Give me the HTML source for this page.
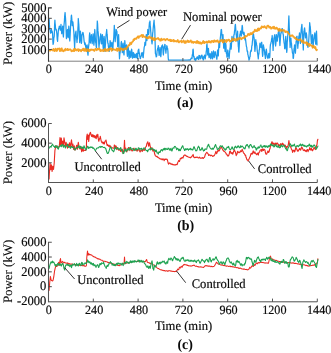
<!DOCTYPE html><html><head><meta charset="utf-8"><title>Power</title><style>html,body{margin:0;padding:0;background:#fff}svg{display:block}text{text-rendering:geometricPrecision;font-family:"Liberation Serif","Times New Roman",serif;font-size:12.6px;fill:#0a0a0a;stroke:#0a0a0a;stroke-width:0.18px}text.b{font-weight:bold;font-size:14px;stroke-width:0}text.r{font-size:12.9px;stroke-width:0.08px}text.d{font-size:12.55px}text.x{font-size:12.15px}text.w{font-size:12.35px}</style></head><body>
<svg width="331" height="353" viewBox="0 0 331 353">
<rect width="331" height="353" fill="#fff"/>
<polyline points="49.1,19.3 49.4,24.4 49.7,29.5 50.1,29.9 50.4,32.4 50.8,33.3 51.0,30.8 51.2,31.4 51.5,29.5 51.8,32.4 52.1,31.2 52.5,32.9 52.7,36.0 52.9,41.9 53.1,44.4 53.5,42.9 53.8,38.1 54.2,36.3 54.4,32.0 54.6,24.9 54.9,20.2 55.1,23.2 55.3,24.9 55.5,27.8 55.9,30.0 56.2,29.3 56.5,31.2 56.9,33.9 57.2,39.2 57.6,41.3 57.8,37.1 58.0,35.8 58.3,31.2 58.6,28.6 58.9,28.7 59.3,26.1 59.6,28.2 60.0,27.8 60.3,30.1 60.5,28.3 60.8,26.2 61.0,24.4 61.2,29.4 61.4,30.2 61.7,33.6 62.0,30.3 62.3,29.2 62.7,26.1 62.9,29.3 63.1,34.2 63.4,37.0 63.6,33.8 63.8,28.6 64.0,25.3 64.4,21.1 64.7,15.9 65.1,12.5 65.3,15.9 65.5,17.9 65.7,21.0 66.0,27.3 66.2,32.5 66.4,38.6 66.8,34.5 67.1,32.7 67.5,29.5 67.7,31.7 67.9,36.6 68.1,37.7 68.4,32.6 68.6,30.3 68.8,26.1 69.1,30.1 69.5,37.9 69.8,41.0 70.2,34.1 70.5,27.9 70.8,21.0 71.1,19.4 71.3,15.8 71.5,15.1 71.8,18.9 72.0,21.7 72.2,25.6 72.4,25.7 72.7,21.9 72.9,21.9 73.2,25.3 73.6,29.9 73.9,32.9 74.1,38.6 74.4,42.7 74.6,48.3 74.8,43.2 75.1,40.0 75.3,34.6 75.5,33.8 75.7,32.3 76.0,31.2 76.3,36.7 76.6,37.3 77.0,42.5 77.2,38.5 77.4,39.1 77.7,34.6 77.9,28.2 78.1,25.5 78.3,18.5 78.6,22.6 78.8,24.3 79.0,27.8 79.2,32.4 79.5,38.0 79.7,42.7 79.9,39.5 80.2,33.8 80.4,31.2 80.7,33.9 81.1,40.8 81.4,43.4 81.6,42.3 81.9,36.2 82.1,34.6 82.4,34.1 82.8,32.4 83.1,32.9 83.6,35.9 84.1,41.1 84.5,43.1 84.8,44.5 85.1,42.9 85.4,44.9 85.7,47.2 86.0,47.8 86.3,49.8 86.5,49.1 86.8,45.3 87.1,44.9 87.4,48.0 87.7,52.8 88.0,55.2 88.2,52.1 88.5,47.1 88.8,44.9 89.1,42.5 89.4,35.6 89.7,32.9 89.9,35.3 90.2,41.4 90.5,43.0 90.8,39.8 91.1,37.9 91.4,34.6 91.6,38.5 91.9,40.0 92.2,43.7 92.5,40.4 92.8,37.0 93.1,33.8 93.3,37.4 93.6,41.6 93.9,45.2 94.2,41.8 94.5,34.6 94.8,29.5 95.1,34.4 95.3,37.6 95.6,42.3 95.9,43.1 96.2,47.0 96.5,47.6 96.8,38.5 97.0,30.4 97.3,21.0 97.6,24.1 97.9,30.4 98.2,32.9 98.5,37.6 98.7,43.0 99.0,47.4 99.3,43.9 99.6,43.8 99.9,39.7 100.2,36.6 100.4,37.0 100.7,33.8 101.0,36.5 101.3,41.5 101.6,43.8 101.9,41.6 102.1,36.6 102.4,34.6 102.7,39.1 103.0,45.6 103.3,49.3 103.6,45.2 103.8,40.0 104.1,36.3 104.4,40.0 104.7,48.3 105.0,51.4 105.3,45.6 105.5,44.0 105.8,38.0 106.1,34.5 106.4,32.6 106.7,29.5 107.0,34.2 107.2,35.0 107.5,39.7 107.8,43.3 108.1,43.2 108.4,46.5 108.7,48.3 108.9,48.9 109.2,51.4 109.5,47.6 109.8,45.7 110.1,40.6 110.4,42.6 110.7,45.2 110.9,47.1 111.2,45.9 111.5,43.9 111.8,42.3 112.1,45.2 112.4,46.5 112.6,50.5 112.9,48.9 113.2,42.4 113.5,40.6 113.8,37.1 114.1,30.3 114.3,25.3 114.6,31.7 114.9,35.2 115.2,41.7 115.5,36.5 115.8,35.4 116.0,29.5 116.3,29.6 116.6,31.8 116.9,31.2 117.2,36.8 117.5,41.3 117.7,46.7 118.0,41.8 118.3,40.1 118.6,34.6 118.9,42.1 119.2,51.6 119.5,58.8 119.8,54.7 120.2,51.9 120.5,48.3 120.8,48.0 121.1,43.1 121.4,41.5 121.7,45.5 122.0,47.9 122.3,52.6 122.5,50.8 122.8,45.5 123.1,43.1 123.4,46.1 123.7,52.8 124.0,54.9 124.2,50.1 124.5,46.8 124.8,40.6 125.1,44.4 125.4,45.6 125.7,49.1 125.9,48.1 126.2,45.8 126.5,44.9 126.8,47.7 127.1,53.1 127.4,56.3 127.6,52.3 127.9,52.2 128.2,47.4 128.5,50.0 128.8,55.7 129.1,58.6 129.3,57.2 129.6,53.0 129.9,50.8 130.2,53.0 130.5,56.3 130.8,57.5 131.1,54.5 131.3,52.6 131.6,49.1 131.9,50.9 132.2,55.5 132.5,58.2 132.8,57.3 133.0,53.5 133.3,52.5 133.6,52.9 133.9,57.5 134.2,57.6 134.5,57.4 134.7,54.2 135.0,54.2 135.3,56.1 135.6,55.4 135.9,57.6 136.2,57.1 136.4,54.4 136.7,53.4 137.0,54.0 137.3,58.1 137.6,58.5 137.7,57.6 137.9,53.0 138.1,50.8 138.3,49.9 138.5,50.0 138.8,49.1 139.1,53.4 139.5,52.9 139.8,56.8 140.0,56.0 140.2,58.5 140.5,58.5 140.8,56.3 141.2,56.4 141.5,55.1 141.7,53.0 141.9,53.9 142.2,52.5 142.5,53.3 142.9,57.3 143.2,57.7 143.4,54.6 143.6,53.4 143.9,50.0 144.2,47.1 144.6,46.0 144.9,42.3 145.1,44.0 145.3,43.4 145.6,45.2 145.8,41.3 146.0,39.4 146.3,34.6 146.5,35.3 146.7,40.4 146.9,40.6 147.2,35.5 147.5,33.9 147.8,29.5 148.1,32.8 148.4,32.6 148.6,34.7 148.9,32.7 149.1,26.6 149.3,24.4 149.5,22.2 149.8,24.1 150.0,21.0 150.2,25.5 150.5,27.7 150.7,31.2 150.9,32.9 151.1,37.2 151.4,38.0 151.6,41.1 151.8,41.6 152.0,43.8 152.3,41.5 152.5,36.3 152.7,32.9 152.9,32.0 153.2,28.2 153.4,26.1 153.6,24.4 153.9,21.6 154.1,20.2 154.3,24.5 154.5,25.6 154.8,29.5 155.0,38.3 155.2,45.0 155.4,53.4 155.8,54.3 156.2,56.9 156.6,56.5 156.8,55.4 157.1,51.0 157.4,50.0 157.7,48.2 158.0,47.9 158.3,45.7 158.5,49.0 158.8,51.4 159.1,55.4 159.4,51.6 159.7,50.7 160.0,47.4 160.2,49.9 160.5,54.7 160.8,56.7 161.1,54.1 161.4,48.6 161.7,46.5 161.9,45.6 162.2,45.6 162.5,44.9 162.8,47.0 163.1,53.0 163.4,54.9 163.6,51.9 163.9,50.1 164.2,46.5 164.5,47.6 164.8,44.3 165.1,44.9 165.3,47.9 165.6,49.8 165.9,53.1 166.2,49.8 166.5,49.3 166.8,45.7 167.1,46.2 167.3,49.0 167.6,48.3 167.9,51.0 168.2,58.0 168.5,60.2 174.4,60.2 181.2,60.2 187.2,60.2 189.7,59.8 190.4,60.1 191.1,58.1 191.8,58.5 192.0,58.6 192.3,54.7 192.6,55.1 192.7,53.7 192.9,49.8 193.1,49.1 193.3,50.7 193.5,55.7 193.7,56.8 194.1,56.5 194.4,59.8 194.8,59.3 195.2,58.7 195.6,60.6 196.0,59.8 196.4,58.0 196.8,57.9 197.2,56.8 197.5,58.6 197.8,57.2 198.2,58.5 198.6,59.5 199.0,55.4 199.4,55.9 199.8,55.6 200.2,58.9 200.6,58.5 200.9,56.8 201.2,56.7 201.6,55.1 202.0,55.1 202.4,58.6 202.8,57.6 203.1,56.9 203.3,60.1 203.6,59.3 203.9,56.6 204.2,57.7 204.5,55.1 204.8,57.7 205.0,56.5 205.3,58.8 205.6,55.2 205.9,55.9 206.2,51.7 206.5,50.0 206.7,45.4 207.0,44.0 207.2,47.4 207.5,51.4 207.7,54.9 207.9,52.4 208.2,50.8 208.4,48.3 208.6,50.3 208.8,55.6 209.1,57.6 209.4,55.2 209.8,55.4 210.1,53.4 210.3,54.0 210.5,57.8 210.8,58.8 211.1,55.1 211.5,55.5 211.8,51.7 212.0,53.5 212.2,57.5 212.5,58.8 212.8,56.6 213.2,53.4 213.5,50.8 213.7,51.9 213.9,55.7 214.2,57.7 214.5,55.4 214.9,54.1 215.2,51.7 215.4,52.2 215.6,54.3 215.9,55.1 216.2,56.3 216.6,58.3 216.9,59.3 217.1,56.1 217.3,53.1 217.6,50.0 217.8,51.3 218.0,55.3 218.3,55.9 218.5,51.1 218.7,48.1 218.9,43.1 219.2,43.2 219.4,46.5 219.6,47.5 219.8,43.7 220.1,41.5 220.3,38.0 220.5,36.5 220.8,33.3 221.0,31.2 221.1,29.6 221.3,30.6 221.5,29.5 221.8,34.3 222.1,35.9 222.3,41.1 222.6,38.6 222.8,37.3 223.0,34.6 223.2,40.4 223.5,43.2 223.7,48.2 223.9,44.4 224.2,44.5 224.4,39.7 224.6,43.6 224.8,47.6 225.1,51.5 225.3,48.5 225.5,46.0 225.7,43.1 226.0,45.5 226.2,51.8 226.4,53.4 226.7,53.2 226.9,56.9 227.1,57.3 227.3,56.7 227.6,51.0 227.8,50.0 228.0,51.2 228.3,54.6 228.6,55.1 228.7,56.4 228.9,56.9 229.1,58.5 229.3,56.5 229.5,53.3 229.7,51.7 230.0,47.8 230.2,47.8 230.4,43.1 230.7,44.0 230.9,48.7 231.1,49.2 231.4,46.1 231.7,39.2 232.0,36.3 232.2,37.5 232.5,40.4 232.8,41.7 233.1,41.5 233.4,38.9 233.7,38.0 233.9,34.7 234.2,34.7 234.5,31.2 234.8,29.8 235.1,25.9 235.4,24.4 235.6,26.7 235.9,31.3 236.2,34.6 236.4,35.6 236.7,40.3 236.9,41.0 237.1,37.4 237.3,36.2 237.6,31.2 237.8,38.0 238.0,40.2 238.3,46.5 238.5,47.1 238.7,51.8 238.9,52.2 239.2,47.0 239.4,42.9 239.6,38.0 239.9,34.4 240.2,33.7 240.5,31.2 240.8,33.0 241.0,34.3 241.3,36.0 241.6,32.9 241.9,28.7 242.2,25.3 242.5,27.1 242.7,32.0 243.0,33.6 243.3,32.8 243.6,34.5 243.9,32.1 244.2,33.2 244.4,36.9 244.7,38.0 245.0,39.8 245.3,38.0 245.6,39.7 245.9,42.4 246.1,44.0 246.4,46.5 246.7,47.0 247.0,50.2 247.3,51.7 247.6,51.3 247.8,54.3 248.1,55.1 248.4,56.9 248.7,57.8 249.0,60.2 249.3,57.8 249.5,59.1 249.8,56.8 250.1,56.6 250.4,52.0 250.7,51.7 251.0,50.2 251.2,51.4 251.5,50.0 251.8,45.9 252.1,45.4 252.4,41.5 252.7,39.3 252.9,35.5 253.2,33.8 253.5,34.1 253.8,36.8 254.1,38.0 254.4,41.7 254.7,47.1 254.9,51.3 255.2,49.0 255.5,42.9 255.8,39.7 256.1,42.6 256.4,42.8 256.6,44.9 256.9,45.9 257.2,50.7 257.5,52.5 257.8,54.5 258.1,57.2 258.3,58.8 258.6,54.5 258.9,54.3 259.2,50.0 259.5,49.7 259.8,44.5 260.0,43.1 260.3,45.6 260.6,45.3 260.9,47.3 261.2,47.5 261.5,42.5 261.7,42.3 262.0,45.7 262.3,52.5 262.6,56.3 262.9,54.3 263.2,48.2 263.4,44.9 263.8,47.5 264.2,49.3 264.6,51.7 264.8,54.5 265.1,55.5 265.4,58.5 265.7,55.5 266.0,51.1 266.3,49.1 266.5,50.4 266.8,53.8 267.1,55.1 267.4,57.7 267.7,56.9 268.0,58.5 268.2,56.3 268.5,55.9 268.8,53.4 269.1,54.6 269.4,57.8 269.7,57.7 269.9,55.1 270.2,47.1 270.5,44.0 270.8,43.9 271.1,42.0 271.4,41.5 271.6,38.8 271.9,38.5 272.2,35.5 272.5,41.2 272.8,44.3 273.1,50.5 273.3,45.7 273.6,43.9 273.9,38.0 274.2,37.5 274.5,35.4 274.8,34.6 275.1,38.4 275.3,42.0 275.6,46.0 275.9,43.3 276.2,38.1 276.5,34.6 276.8,36.5 277.0,40.5 277.3,41.2 277.6,37.0 277.9,37.2 278.2,32.9 278.5,31.9 278.7,30.4 279.0,29.5 279.3,34.1 279.6,40.9 279.9,45.5 280.2,41.1 280.4,38.4 280.7,34.6 281.0,32.6 281.3,32.8 281.6,29.5 281.9,28.9 282.1,29.0 282.4,28.7 282.7,29.7 283.0,34.0 283.3,34.6 283.6,39.1 283.8,40.0 284.1,43.1 284.4,43.9 284.7,48.6 285.0,48.9 285.3,46.4 285.5,39.7 285.8,36.3 286.1,41.4 286.4,47.1 286.7,52.3 287.0,49.9 287.2,42.5 287.5,39.7 287.8,34.8 288.1,33.6 288.4,27.8 288.5,25.1 288.7,19.2 288.9,15.9 289.1,22.4 289.3,28.2 289.6,34.6 289.7,40.9 289.9,42.4 290.1,47.5 290.4,43.9 290.7,42.1 290.9,38.0 291.2,42.3 291.5,43.4 291.8,48.3 292.1,49.5 292.4,52.7 292.6,53.4 292.9,53.7 293.1,58.3 293.4,58.3 293.6,56.2 293.8,51.5 294.1,48.3 294.3,48.2 294.5,45.2 294.7,44.9 295.0,46.5 295.2,52.2 295.4,53.1 295.7,48.3 295.9,46.0 296.1,41.5 296.4,41.6 296.7,36.6 297.0,36.3 297.2,40.7 297.5,43.0 297.8,48.3 298.1,44.3 298.4,43.1 298.7,38.0 298.9,36.0 299.2,36.5 299.5,32.9 299.8,37.0 300.1,39.4 300.4,43.5 300.6,38.7 300.9,34.6 301.2,29.5 301.4,28.0 301.7,25.8 301.9,24.4 302.1,27.7 302.3,32.3 302.6,34.6 302.8,41.4 303.0,44.0 303.3,50.0 303.5,43.8 303.7,37.0 303.9,31.2 304.2,30.2 304.4,28.6 304.6,27.8 304.9,30.7 305.2,35.6 305.5,37.8 305.8,35.8 306.0,36.4 306.3,32.9 306.6,35.0 306.9,40.1 307.2,43.1 307.5,45.9 307.7,44.9 308.0,47.3 308.3,44.1 308.6,42.6 308.9,38.0 309.2,32.7 309.4,29.4 309.7,22.7 310.0,25.6 310.3,27.0 310.6,31.2 310.9,36.1 311.1,39.5 311.4,43.7 311.7,39.3 312.0,38.2 312.3,34.6 312.6,38.5 312.8,43.3 313.1,47.1 313.4,42.8 313.7,41.2 314.0,38.0 314.3,34.9 314.5,36.6 314.8,32.9 315.1,37.2 315.4,40.0 315.7,44.2 316.0,40.9 316.2,34.5 316.5,31.2 316.7,35.7 316.9,41.0 317.0,44.9" fill="none" stroke="#1f9bec" stroke-width="1.25" stroke-opacity="1" stroke-linejoin="round" stroke-linecap="round"/>
<polyline points="49.1,49.9 49.6,50.6 50.1,50.7 50.6,50.1 51.1,49.7 51.6,49.9 52.1,49.6 52.6,49.9 53.1,50.7 53.7,48.8 54.2,50.0 54.7,51.0 55.2,50.7 55.7,48.6 56.2,49.6 56.7,51.0 57.2,50.6 57.7,48.6 58.3,48.9 58.8,48.8 59.3,48.3 59.8,51.1 60.3,49.4 60.8,50.9 61.3,48.6 61.8,48.3 62.3,50.9 62.9,50.7 63.4,51.3 63.9,50.4 64.4,49.9 64.9,50.7 65.4,48.7 65.9,50.0 66.4,49.9 66.9,49.7 67.5,48.8 68.0,50.2 68.5,49.4 69.0,49.9 69.5,49.5 70.0,49.3 70.5,49.4 71.0,50.1 71.5,51.3 72.0,51.1 72.6,50.9 73.1,50.8 73.6,49.2 74.1,51.2 74.6,49.1 75.1,48.6 75.6,49.8 76.1,50.5 76.6,49.8 77.1,49.3 77.6,50.2 78.1,49.1 78.6,51.2 79.2,49.6 79.7,49.7 80.2,49.9 80.7,50.9 81.2,51.3 81.7,49.9 82.2,49.6 82.7,50.2 83.2,48.5 83.7,49.6 84.2,50.9 84.7,50.7 85.2,48.5 85.7,50.9 86.2,49.5 86.7,51.3 87.2,49.5 87.7,49.0 88.2,50.0 88.7,51.0 89.2,49.7 89.7,51.0 90.2,50.5 90.7,49.5 91.2,49.3 91.7,49.9 92.2,49.9 92.7,49.6 93.2,49.5 93.7,50.4 94.3,51.0 94.8,50.2 95.3,48.9 95.8,49.1 96.3,49.5 96.8,50.3 97.3,48.8 97.8,48.7 98.3,49.4 98.9,49.3 99.4,48.5 99.9,50.0 100.4,51.2 100.9,50.0 101.4,50.6 101.9,50.9 102.4,49.9 102.9,50.9 103.5,51.1 104.0,49.7 104.5,50.4 105.0,48.7 105.5,51.0 106.0,49.5 106.5,49.8 107.0,51.0 107.5,49.2 108.0,48.9 108.6,50.8 109.1,50.1 109.6,48.6 110.1,48.4 110.6,49.3 111.1,48.3 111.6,50.8 112.1,48.8 112.6,49.8 113.2,49.1 113.7,49.4 114.2,49.7 114.7,49.5 115.2,50.0 115.7,50.1 116.2,49.4 116.8,48.4 117.3,51.0 117.8,50.1 118.3,48.3 118.8,49.3 119.3,50.3 119.9,50.9 120.4,48.1 120.9,48.0 121.4,49.4 122.0,49.3 122.5,49.0 123.1,50.3 123.7,50.0 124.2,48.5 124.8,48.9 125.3,48.4 125.8,48.7 126.3,49.3 126.8,47.0 127.4,47.7 127.9,46.5 128.5,45.1 129.1,45.5 129.6,45.2 130.2,42.7 130.8,43.4 131.3,44.1 131.9,42.3 132.5,41.7 133.0,41.4 133.6,39.3 134.2,40.0 134.7,38.6 135.3,38.8 135.9,38.3 136.4,38.9 137.0,37.5 137.6,36.9 138.1,36.1 138.7,37.9 139.3,36.3 139.8,36.6 140.4,36.0 141.0,35.8 141.5,34.9 142.0,35.3 142.5,37.2 143.0,34.9 143.5,36.1 144.1,36.5 144.7,37.0 145.2,36.9 145.7,36.6 146.3,38.0 146.8,38.5 147.3,38.4 147.8,37.5 148.3,38.3 148.8,36.8 149.3,36.4 149.8,37.7 150.3,38.0 150.8,37.5 151.4,37.3 151.9,39.5 152.4,37.7 152.9,38.6 153.4,39.7 153.9,40.2 154.4,37.8 154.9,40.3 155.4,39.1 156.0,38.8 156.6,39.1 157.1,38.4 157.6,38.3 158.1,38.0 158.6,39.4 159.1,39.5 159.7,39.2 160.2,40.7 160.8,40.7 161.4,38.5 161.9,39.6 162.5,40.0 163.1,39.6 163.6,39.0 164.2,39.2 164.8,39.2 165.3,40.4 165.9,39.8 166.5,39.4 167.0,38.8 167.6,39.2 168.2,40.0 168.8,40.4 169.3,40.3 169.9,39.6 170.5,41.1 171.0,39.7 171.6,41.1 172.2,41.0 172.7,40.7 173.3,39.8 173.9,41.6 174.4,40.5 175.0,41.0 175.6,41.3 176.1,41.0 176.7,41.5 177.3,41.0 177.8,39.9 178.4,42.1 179.0,42.4 179.5,41.4 180.1,41.3 180.7,41.6 181.2,40.6 181.8,42.5 182.4,41.8 182.9,41.2 183.5,40.4 184.1,42.3 184.6,42.8 185.2,41.0 185.8,43.0 186.3,41.5 186.9,41.5 187.5,40.5 188.0,42.1 188.6,40.9 189.2,42.1 189.7,41.4 190.3,41.7 190.8,40.3 191.4,41.7 191.9,42.7 192.4,41.6 193.0,41.9 193.5,42.9 194.0,41.8 194.6,42.0 195.1,42.1 195.6,42.3 196.1,43.1 196.6,41.3 197.2,41.0 197.7,43.0 198.2,42.4 198.7,41.7 199.2,43.5 199.7,43.5 200.2,42.4 200.7,42.5 201.2,43.9 201.7,43.4 202.3,43.1 202.8,41.8 203.3,40.9 203.8,42.9 204.3,43.1 204.8,41.9 205.3,42.4 205.8,42.3 206.3,42.5 206.9,41.5 207.4,42.8 207.9,42.4 208.4,41.8 208.9,41.0 209.4,42.3 209.9,41.5 210.4,42.1 210.9,42.7 211.5,41.0 212.0,41.6 212.5,41.0 213.0,41.6 213.5,42.1 214.0,40.6 214.5,40.4 215.0,41.7 215.5,41.7 216.0,40.8 216.6,41.6 217.1,40.6 217.6,40.3 218.1,41.6 218.6,42.7 219.1,42.5 219.6,41.3 220.1,40.9 220.6,41.2 221.1,39.9 221.7,40.5 222.2,40.5 222.7,42.4 223.2,39.9 223.7,42.3 224.2,40.9 224.7,40.7 225.2,40.2 225.7,40.9 226.3,42.2 226.8,39.8 227.3,40.9 227.8,40.6 228.4,39.6 228.9,39.6 229.4,40.3 230.0,41.7 230.5,40.9 231.1,40.6 231.7,41.0 232.2,38.4 232.8,39.5 233.4,40.1 233.9,40.2 234.5,38.7 235.1,39.4 235.6,40.9 236.2,39.5 236.8,38.8 237.3,40.0 237.9,38.1 238.5,39.4 239.1,38.1 239.6,38.6 240.2,38.5 240.8,38.0 241.3,39.3 241.9,38.8 242.5,37.9 243.0,37.8 243.6,38.1 244.2,37.0 244.7,37.9 245.3,35.9 245.9,36.5 246.4,36.1 247.0,36.1 247.6,35.2 248.1,33.9 248.7,34.0 249.3,35.1 249.8,34.4 250.4,33.1 251.0,34.3 251.5,33.1 252.1,34.0 252.7,33.3 253.2,31.8 253.8,32.2 254.4,30.9 254.9,29.6 255.5,30.9 256.1,31.2 256.6,30.1 257.2,31.1 257.8,28.7 258.3,28.3 258.9,30.4 259.5,29.4 260.0,28.4 260.6,28.0 261.1,28.5 261.6,26.4 262.1,27.2 262.6,26.7 263.2,27.4 263.7,27.4 264.3,26.2 264.8,26.3 265.4,27.6 266.0,27.8 266.5,28.4 267.1,26.1 267.7,25.5 268.2,25.6 268.8,26.7 269.4,27.7 269.9,26.7 270.5,27.0 271.1,28.8 271.6,27.8 272.2,27.6 272.8,27.0 273.3,28.5 273.9,26.5 274.5,27.5 275.1,28.9 275.6,28.4 276.2,27.7 276.8,27.5 277.3,29.2 277.9,28.8 278.5,31.0 279.0,29.8 279.6,28.7 280.2,30.8 280.7,29.6 281.3,30.9 281.9,29.9 282.4,30.1 283.0,30.9 283.6,30.1 284.1,30.0 284.7,30.9 285.3,32.2 285.8,31.5 286.3,31.4 286.8,31.5 287.4,32.5 287.9,31.9 288.4,33.5 288.9,33.5 289.4,34.8 289.9,35.2 290.4,35.9 290.9,36.1 291.5,35.7 292.1,35.2 292.7,35.5 293.2,36.7 293.8,36.6 294.4,37.8 295.0,38.3 295.5,37.7 296.1,39.4 296.7,39.2 297.2,39.7 297.8,39.5 298.4,40.4 298.9,40.0 299.5,39.9 300.1,39.7 300.6,39.2 301.2,40.7 301.8,41.9 302.3,41.3 302.9,40.3 303.5,43.1 304.1,42.4 304.6,42.4 305.2,43.0 305.8,42.8 306.3,42.1 306.9,45.0 307.5,42.8 308.0,44.1 308.6,44.0 309.2,46.2 309.7,43.8 310.3,45.2 310.9,45.4 311.4,45.8 312.0,45.4 312.6,47.8 313.1,46.6 313.7,45.8 314.3,47.6 314.8,48.0 315.4,46.9 315.9,49.5 316.5,50.4 317.0,49.7" fill="none" stroke="#f59a10" stroke-width="1.7" stroke-opacity="0.9" stroke-linejoin="round" stroke-linecap="round"/>
<path d="M48.5,61.2H317.3" fill="none" stroke="#808080" stroke-width="1"/>
<path d="M93.30,61.2v-3.2" stroke="#444" stroke-width="0.9"/>
<path d="M138.10,61.2v-3.2" stroke="#444" stroke-width="0.9"/>
<path d="M182.90,61.2v-3.2" stroke="#444" stroke-width="0.9"/>
<path d="M227.70,61.2v-3.2" stroke="#444" stroke-width="0.9"/>
<path d="M272.50,61.2v-3.2" stroke="#444" stroke-width="0.9"/>
<path d="M317.30,61.2v-3.2" stroke="#444" stroke-width="0.9"/>
<path d="M51.8,7.9H48.5V61.7" fill="none" stroke="#3a3a3a" stroke-width="1.1"/>
<path d="M48.5,49.50h3.3" stroke="#4a4a4a" stroke-width="1"/>
<text transform="translate(46.40 53.80) scale(1 1.04)" text-anchor="end" class="d">1000</text>
<path d="M48.5,39.10h3.3" stroke="#4a4a4a" stroke-width="1"/>
<text transform="translate(46.40 43.25) scale(1 1.04)" text-anchor="end" class="d">2000</text>
<path d="M48.5,28.70h3.3" stroke="#4a4a4a" stroke-width="1"/>
<text transform="translate(46.40 32.70) scale(1 1.04)" text-anchor="end" class="d">3000</text>
<path d="M48.5,18.30h3.3" stroke="#4a4a4a" stroke-width="1"/>
<text transform="translate(46.40 22.15) scale(1 1.04)" text-anchor="end" class="d">4000</text>
<text transform="translate(46.40 11.60) scale(1 1.04)" text-anchor="end" class="d">5000</text>
<text transform="translate(48.75 72.80) scale(1 1.04)" text-anchor="middle" class="x">0</text>
<text transform="translate(94.15 72.80) scale(1 1.04)" text-anchor="middle" class="x">240</text>
<text transform="translate(138.95 72.80) scale(1 1.04)" text-anchor="middle" class="x">480</text>
<text transform="translate(183.75 72.80) scale(1 1.04)" text-anchor="middle" class="x">720</text>
<text transform="translate(228.55 72.80) scale(1 1.04)" text-anchor="middle" class="x">960</text>
<text transform="translate(274.35 72.80) scale(1 1.04)" text-anchor="middle" class="x">1200</text>
<text transform="translate(319.15 72.80) scale(1 1.04)" text-anchor="middle" class="x">1440</text>
<text transform="translate(183.50 89.50) scale(1 1.04)" text-anchor="middle">Time (min)</text>
<text transform="translate(185.20 107.30) scale(1 1.04)" text-anchor="middle" class="b">(a)</text>
<text class="r" transform="translate(12.4,33.30) rotate(-90)" text-anchor="middle">Power (kW)</text>
<polyline points="49.1,179.0 49.4,172.8 50.1,163.4 50.8,169.7 51.5,164.8 52.1,171.4 52.8,166.3 53.5,169.5 54.2,163.3 54.9,150.7 55.5,147.5 56.0,145.5 56.5,146.7 57.1,146.7 57.6,148.2 58.3,147.3 58.8,146.6 59.3,146.5 60.0,137.6 60.6,144.6 61.3,138.0 62.0,146.3 62.7,141.0 63.4,145.0 64.0,137.9 64.7,142.2 65.4,146.3 66.1,142.4 66.8,146.0 67.5,148.1 68.1,144.5 68.8,146.0 69.5,142.7 70.2,148.0 70.8,143.9 71.5,139.9 72.2,146.4 72.9,144.1 73.6,149.5 74.3,145.8 74.9,150.2 75.4,149.5 75.8,148.1 76.2,147.7 76.6,145.3 77.1,146.7 77.5,149.3 77.9,145.1 78.3,142.4 78.8,145.5 79.2,148.0 79.6,148.1 80.0,149.1 80.5,147.3 80.9,146.6 81.3,149.5 81.7,151.8 82.2,150.9 82.6,147.9 83.0,149.1 83.5,151.1 84.0,149.9 84.5,150.3 84.9,150.5 85.4,150.4 85.8,150.2 86.3,149.5 86.7,136.8 87.2,134.1 87.8,139.5 88.3,135.1 88.7,141.5 89.3,136.0 89.9,133.1 90.5,132.4 91.1,135.1 91.7,136.4 92.2,134.6 92.8,136.9 93.3,135.0 94.0,137.3 94.5,135.6 95.1,137.9 95.6,136.1 96.2,138.6 96.7,134.7 97.3,137.0 97.8,134.2 98.3,138.8 98.8,141.3 99.2,139.7 99.9,137.9 100.3,136.3 100.9,139.6 101.4,141.5 102.0,142.7 102.6,142.0 103.2,143.8 103.8,142.3 104.4,144.0 105.0,141.3 105.6,140.6 106.0,140.0 106.7,143.6 107.2,145.5 107.8,144.7 108.5,146.3 109.2,145.3 109.8,147.0 110.5,145.9 111.2,147.3 111.7,147.8 112.1,147.7 112.6,147.7 113.0,148.3 113.5,148.3 114.0,148.3 114.3,145.0 114.8,145.5 115.2,148.3 115.6,146.6 116.0,145.9 116.5,147.1 116.9,149.6 117.3,148.8 117.7,147.7 118.2,149.1 118.6,150.1 119.0,150.3 119.5,149.2 120.0,149.0 120.6,151.2 121.1,151.6 121.6,150.2 122.1,149.2 122.6,150.4 123.1,153.5 123.5,152.2 124.0,150.0 124.5,140.2 125.0,150.8 125.4,149.8 125.8,148.1 126.3,151.4 126.8,151.8 127.4,150.3 127.9,150.1 128.4,147.5 128.9,147.5 129.4,148.2 129.9,150.6 130.4,148.6 130.9,149.2 131.4,149.7 132.0,151.0 132.5,150.8 133.0,149.6 133.5,148.5 134.0,148.2 134.5,149.7 135.0,150.2 135.5,150.3 136.0,149.5 136.6,150.1 137.1,151.2 137.6,150.0 138.1,149.4 138.6,150.0 139.1,150.3 139.6,151.1 140.1,152.0 140.6,150.8 141.2,149.7 141.7,150.3 142.2,151.4 142.7,150.4 143.2,149.4 143.7,149.7 144.2,150.5 144.7,149.1 145.2,147.8 145.7,147.0 146.3,146.3 146.9,143.5 147.4,142.6 147.8,141.8 148.2,143.6 148.6,146.2 149.1,144.4 149.5,142.7 149.9,144.8 150.3,147.0 150.8,148.4 151.2,149.4 151.6,149.1 152.0,147.7 152.5,149.9 152.9,151.1 153.3,150.6 153.7,149.4 154.2,151.3 154.6,153.8 155.0,154.9 155.4,155.6 156.0,156.3 156.6,156.6 157.0,156.4 157.4,157.1 157.8,157.0 158.3,157.8 158.7,157.8 159.1,158.1 159.5,158.5 160.0,158.9 160.4,158.8 160.8,159.1 161.2,159.1 161.7,158.9 162.1,159.9 162.5,159.6 162.9,158.9 163.4,159.0 163.8,159.5 164.2,160.7 164.6,159.3 165.1,158.8 165.5,159.5 165.9,159.5 166.3,159.3 166.8,159.1 167.2,159.5 167.6,160.7 168.0,162.5 168.5,164.1 168.9,163.8 169.3,163.2 169.7,162.9 170.2,163.3 170.6,163.8 171.0,164.2 171.4,163.9 171.9,164.3 172.3,164.0 172.7,164.7 173.1,164.5 173.6,164.7 174.0,164.9 174.4,164.7 174.9,165.0 175.3,164.9 175.7,164.9 176.1,164.4 176.6,164.4 177.0,164.7 177.4,163.9 177.8,162.3 178.3,161.4 178.7,160.6 179.1,161.2 179.5,161.4 180.0,159.6 180.4,158.2 180.8,158.7 181.2,158.8 181.7,157.7 182.1,157.4 182.5,157.8 182.9,158.1 183.4,156.7 183.8,155.7 184.2,155.3 184.6,155.0 185.1,155.0 185.5,155.4 185.9,155.8 186.3,155.8 186.8,156.5 187.2,156.4 187.6,156.5 188.0,156.9 188.5,157.1 188.9,157.2 189.3,157.3 189.7,157.5 190.2,157.6 190.6,157.8 191.1,156.9 191.6,156.9 192.1,155.9 192.6,155.6 193.1,154.4 193.7,157.2 194.2,157.3 194.7,157.7 195.1,157.6 195.5,157.4 196.0,157.1 196.4,157.4 196.8,157.2 197.3,157.0 197.7,157.5 198.2,157.9 198.8,158.0 199.4,157.2 200.0,157.8 200.6,158.3 201.0,158.3 201.5,158.2 201.9,157.8 202.4,157.5 202.8,158.2 203.3,158.5 203.9,157.5 204.5,157.3 204.9,155.8 205.3,154.5 205.7,153.9 206.2,153.0 206.6,152.5 207.0,152.3 207.4,153.0 207.9,153.7 208.3,154.2 208.7,155.5 209.1,154.9 209.6,154.7 210.0,155.2 210.4,155.8 210.9,155.4 211.3,155.4 211.8,155.3 212.4,156.2 213.0,156.4 213.6,155.7 214.2,155.6 214.7,154.8 215.2,153.6 215.9,151.3 216.6,153.7 217.2,152.3 217.7,150.9 218.1,150.3 218.5,150.4 218.9,151.1 219.4,150.5 219.8,149.6 220.2,148.4 220.6,147.8 221.1,147.6 221.5,146.8 221.9,148.2 222.3,148.8 222.8,149.9 223.2,150.5 223.6,150.9 224.0,151.4 224.5,151.5 224.9,152.0 225.3,152.2 225.7,152.8 226.2,153.9 226.6,154.1 227.0,154.9 227.4,155.1 228.0,156.1 228.6,155.7 229.0,154.6 229.4,153.3 229.8,151.2 230.3,151.0 230.7,152.2 231.1,153.7 231.5,153.3 232.0,152.5 232.4,153.4 232.8,154.2 233.2,152.9 233.7,151.1 234.1,150.4 234.5,149.8 234.9,151.4 235.4,152.0 235.8,153.5 236.2,155.6 236.6,154.1 237.1,154.2 237.5,151.5 237.9,151.4 238.3,152.1 238.8,152.6 239.2,152.7 239.6,152.1 240.0,152.2 240.5,150.8 240.9,151.0 241.3,151.6 241.7,151.1 242.2,149.2 242.6,150.9 243.0,151.2 243.4,152.9 243.9,153.2 244.3,153.6 244.7,154.3 245.1,155.4 245.6,155.2 246.0,157.3 246.4,158.1 246.9,159.7 247.3,159.9 247.7,160.0 248.1,161.0 248.6,160.1 249.0,158.8 249.4,158.2 249.8,157.1 250.3,156.2 250.7,154.7 251.1,153.4 251.5,153.4 252.0,154.1 252.4,154.0 252.8,152.1 253.2,150.9 253.7,152.5 254.1,153.3 254.5,152.8 254.9,151.8 255.4,153.4 255.8,153.8 256.2,154.0 256.6,154.7 257.1,153.7 257.5,153.1 257.9,154.3 258.3,155.1 258.8,152.6 259.2,152.2 259.6,152.1 260.0,150.5 260.5,150.1 260.9,149.9 261.3,149.4 261.7,151.5 262.2,150.2 262.6,148.8 263.0,149.2 263.4,150.5 264.0,149.2 264.6,149.6 265.0,150.3 265.4,152.5 265.8,153.8 266.3,154.3 266.7,154.1 267.1,152.8 267.5,152.1 268.0,150.9 268.4,152.4 268.8,152.4 269.2,151.3 269.7,149.1 270.1,148.5 270.5,145.6 270.9,145.0 271.4,143.6 271.8,141.8 272.2,141.8 272.6,143.9 273.1,144.6 273.5,143.2 273.9,143.0 274.3,143.7 274.8,145.7 275.2,144.2 275.6,143.1 276.0,144.9 276.5,144.0 276.9,143.1 277.3,143.0 277.7,143.2 278.2,145.3 278.6,145.6 279.0,144.5 279.4,145.0 279.9,146.4 280.3,145.5 280.7,143.6 281.1,144.7 281.6,145.1 282.0,143.8 282.4,143.2 282.9,144.5 283.3,143.9 283.7,144.7 284.1,145.9 284.6,146.3 285.0,145.0 285.4,145.5 285.8,147.2 286.3,146.7 286.7,148.3 287.1,146.9 287.5,146.5 288.0,145.9 288.4,144.1 288.9,140.5 289.6,145.2 290.3,146.7 290.9,147.4 291.4,149.1 291.8,149.6 292.2,150.4 292.6,152.4 293.1,150.6 293.6,150.3 294.0,150.4 294.4,151.9 294.8,151.6 295.3,149.5 295.7,148.0 296.1,147.6 296.5,149.0 297.0,149.3 297.4,151.2 297.8,150.8 298.2,151.1 298.7,149.7 299.1,149.7 299.5,148.5 299.9,148.7 300.4,150.1 300.8,149.8 301.2,148.2 301.6,147.1 302.1,147.3 302.5,148.6 302.9,149.0 303.3,150.2 303.8,150.4 304.2,150.7 304.6,149.7 305.0,150.5 305.5,151.2 305.9,150.7 306.3,151.7 306.7,150.3 307.2,149.5 307.6,149.6 308.0,151.7 308.4,150.5 308.9,149.8 309.3,149.5 309.7,147.6 310.1,149.5 310.6,150.0 311.0,148.6 311.4,148.3 311.9,150.1 312.3,150.8 312.7,150.6 313.1,149.4 313.6,148.9 314.0,147.4 314.4,147.7 314.8,148.6 315.3,149.6 315.7,149.1 316.1,148.7 316.5,145.7 317.0,144.5 317.4,140.8 317.9,139.3" fill="none" stroke="#ea2a22" stroke-width="1.12" stroke-opacity="1" stroke-linejoin="round" stroke-linecap="round"/>
<polyline points="49.1,148.1 49.6,147.6 50.1,146.6 50.6,146.5 51.1,147.2 51.6,145.3 52.1,144.8 52.6,144.1 53.1,145.7 53.7,146.3 54.2,146.5 54.7,147.4 55.2,145.9 55.7,146.1 56.2,147.6 56.7,146.0 57.2,145.9 57.7,147.8 58.3,149.2 58.8,147.7 59.3,146.5 59.8,146.3 60.3,145.5 60.8,145.9 61.3,146.7 61.8,145.0 62.3,144.5 62.9,145.1 63.4,147.2 63.9,145.8 64.4,145.4 64.9,146.6 65.4,148.0 65.9,146.3 66.4,145.9 66.9,145.7 67.5,144.1 68.0,146.0 68.5,147.4 69.0,146.3 69.5,146.6 70.0,147.2 70.5,148.3 71.0,147.0 71.5,146.4 72.0,147.3 72.5,147.5 73.1,147.4 73.6,147.1 74.1,148.2 74.6,149.7 75.1,149.9 75.6,149.0 76.1,148.9 76.6,147.5 77.2,147.8 77.7,147.1 78.2,147.4 78.7,145.6 79.2,146.3 79.7,148.3 80.2,146.7 80.7,146.3 81.2,147.6 81.7,148.6 82.3,147.7 82.8,147.0 83.3,148.4 83.8,147.9 84.0,145.7 84.7,147.6 85.4,148.8 86.0,150.1 86.7,148.8 87.5,146.2 88.1,146.6 88.7,148.5 89.4,147.4 90.2,147.6 90.8,146.8 91.4,147.5 92.2,147.1 92.9,148.4 93.5,147.9 94.2,148.9 94.7,149.8 95.3,150.7 96.0,149.5 96.7,148.2 97.4,147.9 98.0,148.1 98.7,147.5 99.4,146.9 100.1,146.3 100.8,147.5 101.4,146.6 102.1,146.5 102.9,147.1 103.5,147.5 104.1,147.3 104.8,147.8 105.6,148.3 106.2,150.0 106.8,152.1 107.4,153.4 108.0,153.4 108.7,152.0 109.4,149.8 110.1,147.7 110.8,147.1 111.4,148.5 112.1,150.2 112.8,150.7 113.5,151.8 114.0,151.1 114.6,148.7 115.2,147.1 115.8,148.7 116.4,149.0 116.8,148.7 117.3,148.4 117.7,147.6 118.2,148.7 118.7,149.3 119.1,149.6 119.6,148.9 120.2,148.9 120.7,147.5 121.2,149.1 121.6,150.5 122.1,149.9 122.5,151.0 123.0,153.6 123.5,153.4 123.9,153.0 124.4,151.1 124.8,149.1 125.3,150.4 125.7,149.7 126.2,151.6 126.6,150.0 127.1,150.4 127.5,149.1 128.0,148.5 128.4,149.6 128.9,150.0 129.3,150.0 129.8,147.9 130.3,147.4 130.7,147.6 131.2,149.7 131.6,149.3 132.1,148.9 132.5,148.9 133.0,148.7 133.4,149.1 133.9,150.7 134.3,150.2 134.8,149.8 135.2,150.0 135.7,148.4 136.2,148.3 136.6,149.9 137.1,149.3 137.5,149.7 138.0,149.0 138.4,147.7 138.9,148.1 139.3,148.2 139.8,149.9 140.2,149.1 140.7,148.6 141.2,148.4 141.6,148.4 142.1,150.0 142.5,149.2 143.0,149.1 143.4,148.6 143.9,147.9 144.3,148.1 144.8,148.2 145.2,148.4 145.7,149.9 146.1,150.6 146.6,150.4 147.1,150.2 147.5,151.8 148.0,150.9 148.4,149.7 148.9,149.8 149.3,149.0 149.8,149.1 150.2,148.5 150.7,150.0 151.1,148.3 151.6,148.1 152.0,148.3 152.5,149.0 152.9,149.5 153.4,149.1 153.9,150.5 154.3,149.9 154.8,149.9 155.2,151.2 155.7,151.7 156.1,150.1 156.6,151.2 157.0,152.9 157.4,152.8 157.8,153.0 158.3,154.1 158.7,152.4 159.1,151.7 159.5,152.4 160.0,152.4 160.4,151.6 160.8,150.1 161.2,150.3 161.7,149.6 162.1,150.2 162.5,151.0 162.9,149.7 163.4,148.9 163.8,149.8 164.2,148.5 164.6,148.3 165.1,150.0 165.5,148.9 165.9,148.3 166.3,148.7 166.8,149.5 167.2,149.2 167.6,149.5 168.0,148.1 168.5,148.2 168.9,148.3 169.3,149.9 169.7,149.3 170.2,150.3 170.6,148.8 171.0,148.3 171.4,150.0 171.9,151.1 172.3,150.0 172.7,148.4 173.1,147.9 173.6,147.7 174.0,148.2 174.4,146.6 174.9,146.4 175.3,146.5 175.7,147.1 176.1,147.6 176.6,149.7 177.0,149.1 177.4,148.4 177.8,148.2 178.3,149.4 178.7,150.7 179.1,149.5 179.5,149.3 180.0,150.8 180.4,150.5 180.8,148.8 181.2,148.8 181.7,147.0 182.1,147.0 182.5,145.7 182.9,145.9 183.4,147.9 183.8,148.6 184.2,149.1 184.6,150.5 185.1,150.2 185.5,148.7 185.9,149.0 186.3,149.7 186.8,149.3 187.2,148.5 187.6,149.4 188.0,149.3 188.5,150.2 188.9,149.0 189.3,149.0 189.7,149.4 190.2,148.5 190.6,148.4 191.0,149.9 191.4,149.4 192.0,149.4 192.6,150.0 193.0,149.6 193.4,148.1 193.8,146.9 194.3,146.8 194.7,148.3 195.1,149.3 195.5,150.1 196.0,150.9 196.4,150.3 196.8,150.6 197.2,149.3 197.7,147.8 198.1,146.9 198.5,146.2 198.9,147.3 199.4,147.4 199.8,149.8 200.2,150.3 200.6,149.6 201.1,150.0 201.5,149.2 201.9,147.7 202.3,147.7 202.8,149.5 203.2,150.3 203.6,151.1 204.0,150.0 204.5,150.5 204.9,149.0 205.3,148.9 205.7,149.2 206.2,149.3 206.6,149.3 207.0,147.8 207.4,146.1 207.9,145.9 208.3,144.4 208.7,144.4 209.1,146.1 209.6,146.6 210.0,147.7 210.4,148.3 210.9,148.6 211.3,149.2 211.7,148.9 212.1,148.8 212.6,148.1 213.0,149.5 213.4,148.5 213.8,148.0 214.3,147.6 214.7,146.0 215.1,145.7 215.5,144.5 216.0,145.8 216.4,147.1 216.8,147.2 217.2,149.2 217.7,149.4 218.1,149.2 218.5,148.6 218.9,149.0 219.4,147.5 219.8,146.7 220.2,146.0 220.6,145.8 221.1,146.2 221.5,146.8 221.9,146.2 222.3,145.8 222.8,147.0 223.2,147.9 223.6,147.4 224.0,148.8 224.5,148.7 224.9,150.0 225.3,150.2 225.7,148.8 226.2,149.3 226.6,148.5 227.0,147.1 227.4,147.4 228.0,147.4 228.6,146.4 229.0,147.7 229.4,149.2 229.8,149.2 230.3,149.7 230.7,149.4 231.1,149.0 231.5,148.5 232.0,146.8 232.4,147.2 232.8,148.7 233.2,149.3 233.7,149.4 234.1,149.0 234.5,147.3 234.9,146.9 235.4,146.2 235.8,147.4 236.2,147.5 236.6,148.0 237.1,146.6 237.5,147.2 237.9,145.9 238.3,145.9 238.8,146.7 239.2,147.6 239.6,147.8 240.0,147.4 240.5,145.7 240.9,147.3 241.3,146.9 241.7,146.3 242.2,146.0 242.6,146.6 243.0,146.9 243.4,147.4 243.9,148.6 244.3,148.0 244.7,148.9 245.1,148.7 245.6,146.6 246.0,145.3 246.4,145.6 246.9,144.6 247.3,144.5 247.7,145.5 248.1,146.3 248.6,146.6 249.0,148.1 249.4,145.6 249.8,145.6 250.3,144.5 250.7,144.6 251.1,144.9 251.5,146.4 252.0,146.7 252.4,147.9 252.8,147.0 253.2,147.3 253.7,146.9 254.1,145.5 254.5,146.9 254.9,147.4 255.4,147.3 255.8,148.4 256.2,150.0 256.6,150.0 257.1,147.9 257.5,148.1 257.9,148.3 258.3,146.7 258.8,148.0 259.2,147.6 259.6,147.6 260.0,146.1 260.5,145.6 260.9,144.9 261.3,146.4 261.7,147.2 262.2,147.0 262.6,147.4 263.0,146.2 263.4,145.9 264.0,146.7 264.6,145.5 265.0,146.9 265.4,147.2 265.8,145.8 266.3,146.0 266.7,146.9 267.1,146.1 267.5,147.4 268.0,147.3 268.4,146.6 268.8,145.5 269.2,146.5 269.7,146.1 270.1,144.8 270.5,145.1 270.9,143.9 271.4,144.2 271.8,145.5 272.2,145.9 272.6,145.2 273.1,144.9 273.5,145.8 273.9,147.0 274.3,146.6 274.8,146.2 275.2,144.7 275.6,145.0 276.0,144.9 276.5,146.6 276.9,146.8 277.3,147.1 277.7,147.0 278.2,145.3 278.6,147.2 279.0,146.8 279.4,147.7 279.9,147.7 280.3,147.5 280.7,145.9 281.1,145.3 281.6,145.0 282.0,146.6 282.4,146.9 282.9,145.9 283.3,146.0 283.7,145.8 284.1,145.2 284.6,146.3 285.0,147.3 285.4,148.1 285.8,149.0 286.3,148.7 286.7,149.9 287.1,150.8 287.5,150.4 288.0,148.2 288.4,147.4 288.8,147.1 289.2,145.6 289.7,144.9 290.1,143.6 290.5,144.5 290.9,144.9 291.4,145.9 291.8,146.6 292.2,145.1 292.6,145.4 293.1,146.0 293.6,145.4 294.0,144.6 294.4,144.2 294.8,145.7 295.3,146.6 295.7,147.3 296.1,146.9 296.5,146.6 297.0,145.6 297.4,145.5 297.8,146.4 298.2,146.3 298.7,146.7 299.1,145.1 299.5,145.5 299.9,145.4 300.4,144.0 300.8,144.4 301.2,145.9 301.6,145.1 302.1,145.5 302.5,144.2 302.9,144.5 303.3,145.4 303.8,146.0 304.2,146.4 304.6,145.2 305.0,145.7 305.5,146.3 305.9,146.4 306.3,146.7 306.7,147.0 307.2,145.5 307.6,145.8 308.0,146.1 308.4,145.9 308.9,145.1 309.3,144.0 309.7,144.5 310.1,146.1 310.6,145.7 311.0,146.7 311.4,145.2 311.9,147.1 312.3,147.2 312.7,146.1 313.1,145.8 313.6,146.1 314.0,144.9 314.4,145.5 314.8,145.4 315.3,146.6 315.7,148.1 316.1,148.9 316.5,149.0 317.0,147.4 317.4,147.3 317.9,146.1" fill="none" stroke="#1fa352" stroke-width="1.1" stroke-opacity="1" stroke-linejoin="round" stroke-linecap="round"/>
<path d="M48.5,182.5H317.3" fill="none" stroke="#555" stroke-width="1"/>
<path d="M93.30,182.5v-3.2" stroke="#444" stroke-width="0.9"/>
<path d="M138.10,182.5v-3.2" stroke="#444" stroke-width="0.9"/>
<path d="M182.90,182.5v-3.2" stroke="#444" stroke-width="0.9"/>
<path d="M227.70,182.5v-3.2" stroke="#444" stroke-width="0.9"/>
<path d="M272.50,182.5v-3.2" stroke="#444" stroke-width="0.9"/>
<path d="M317.30,182.5v-3.2" stroke="#444" stroke-width="0.9"/>
<path d="M51.8,123.5H48.5V183.0" fill="none" stroke="#555" stroke-width="1.0"/>
<path d="M48.5,162.83h3.3" stroke="#4a4a4a" stroke-width="1"/>
<text transform="translate(46.40 166.73) scale(1 1.04)" text-anchor="end" class="d">2000</text>
<path d="M48.5,143.17h3.3" stroke="#4a4a4a" stroke-width="1"/>
<text transform="translate(46.40 147.07) scale(1 1.04)" text-anchor="end" class="d">4000</text>
<text transform="translate(46.40 127.40) scale(1 1.04)" text-anchor="end" class="d">6000</text>
<text transform="translate(48.75 194.80) scale(1 1.04)" text-anchor="middle" class="x">0</text>
<text transform="translate(94.15 194.80) scale(1 1.04)" text-anchor="middle" class="x">240</text>
<text transform="translate(138.95 194.80) scale(1 1.04)" text-anchor="middle" class="x">480</text>
<text transform="translate(183.75 194.80) scale(1 1.04)" text-anchor="middle" class="x">720</text>
<text transform="translate(228.55 194.80) scale(1 1.04)" text-anchor="middle" class="x">960</text>
<text transform="translate(274.35 194.80) scale(1 1.04)" text-anchor="middle" class="x">1200</text>
<text transform="translate(319.15 194.80) scale(1 1.04)" text-anchor="middle" class="x">1440</text>
<text transform="translate(183.50 211.90) scale(1 1.04)" text-anchor="middle">Time (min)</text>
<text transform="translate(185.70 230.00) scale(1 1.04)" text-anchor="middle" class="b">(b)</text>
<text class="r" transform="translate(12.4,152.65) rotate(-90)" text-anchor="middle">Power (kW)</text>
<polyline points="49.1,290.4 49.7,282.6 50.4,276.4 51.1,279.9 51.6,280.6 52.1,280.8 52.6,280.9 53.1,280.1 53.8,276.7 54.5,271.4 55.2,268.1 55.9,265.6 56.4,266.5 56.9,266.5 57.4,265.7 57.9,265.5 58.6,262.3 59.3,265.4 60.0,260.3 60.5,258.6 61.0,263.1 61.7,262.1 62.2,262.0 62.7,261.4 63.2,262.5 63.7,262.8 64.2,262.8 64.7,262.2 65.1,262.6 65.6,263.0 66.0,263.1 66.4,263.0 66.9,263.5 67.3,263.3 67.7,262.9 68.1,263.4 68.6,264.1 69.0,263.5 69.4,263.7 69.8,264.0 70.3,264.0 70.7,264.2 71.1,264.1 71.5,264.2 72.0,264.0 72.4,264.1 72.8,264.1 73.2,264.3 73.7,264.4 74.1,264.3 74.5,264.7 74.9,264.6 75.4,264.7 75.8,264.5 76.2,264.8 76.6,264.8 77.1,265.2 77.5,264.9 77.9,265.3 78.3,265.2 78.8,265.1 79.2,265.4 79.6,265.1 80.0,265.2 80.5,265.4 80.9,265.7 81.3,265.6 81.7,265.4 82.2,265.5 82.6,265.8 83.0,265.7 83.5,265.5 83.9,265.5 84.4,265.8 84.9,266.3 85.4,266.3 85.9,266.2 86.4,265.5 86.8,257.1 87.5,251.1 88.1,255.3 88.8,253.6 89.2,254.4 89.7,254.9 90.1,254.7 90.5,254.5 90.9,255.0 91.4,254.9 91.8,255.2 92.2,255.7 92.6,256.0 93.1,256.2 93.5,256.7 93.9,256.6 94.3,256.9 94.8,257.1 95.2,257.1 95.6,257.5 96.0,257.7 96.5,257.9 96.9,258.3 97.3,258.5 97.7,258.9 98.2,258.6 98.6,258.9 99.0,259.3 99.4,259.1 99.9,259.3 100.3,259.5 100.7,260.0 101.1,260.1 101.6,260.2 102.0,260.2 102.4,260.7 102.9,261.1 103.3,261.1 103.7,261.4 104.1,261.3 104.6,261.3 105.0,261.3 105.4,261.5 105.8,261.7 106.3,261.8 106.7,261.7 107.1,261.8 107.5,262.2 108.0,262.5 108.4,262.6 108.8,262.4 109.2,262.6 109.7,262.8 110.1,263.1 110.5,262.9 110.9,263.2 111.4,263.3 111.8,263.7 112.2,263.6 112.6,263.7 113.1,263.9 113.5,264.3 113.9,264.0 114.3,264.4 114.8,264.2 115.2,264.5 115.6,264.8 116.0,264.8 116.5,264.9 116.9,265.1 117.3,265.0 117.7,265.2 118.2,265.5 118.6,265.2 119.0,265.6 119.5,265.6 119.9,265.3 120.4,265.0 120.9,264.7 121.4,264.4 121.8,264.3 122.3,263.9 122.7,264.0 123.1,263.9 123.6,263.4 124.1,263.1 124.5,257.0 125.0,263.8 125.5,263.6 126.0,263.3 126.5,262.9 126.9,263.0 127.4,262.6 127.8,262.7 128.2,262.6 128.6,262.6 129.1,262.6 129.5,262.5 129.9,262.1 130.3,262.3 130.8,261.9 131.2,261.9 131.6,261.7 132.0,262.0 132.5,261.5 132.9,261.5 133.3,261.6 133.7,261.4 134.2,261.4 134.6,261.4 135.0,261.5 135.4,261.3 135.9,261.5 136.3,261.6 136.7,261.4 137.1,261.2 137.6,261.4 138.0,261.4 138.4,261.3 138.9,261.2 139.3,261.1 139.7,261.4 140.1,261.3 140.6,261.2 141.0,261.5 141.4,261.1 141.8,261.5 142.3,261.7 142.7,261.8 143.1,261.3 143.5,261.7 144.0,261.8 144.4,261.5 144.8,261.8 145.2,261.7 145.7,260.9 146.1,260.3 146.6,259.5 147.3,262.2 147.7,262.4 148.2,262.6 148.6,262.7 149.1,262.6 149.5,263.2 149.9,263.4 150.3,263.3 150.8,263.4 151.2,263.6 151.6,263.9 152.0,264.1 152.5,264.2 152.9,264.7 153.3,264.9 153.7,265.0 154.2,265.0 154.6,265.4 155.0,265.8 155.4,265.9 155.9,266.5 156.4,267.2 156.9,267.7 157.4,268.1 157.8,268.4 158.3,268.6 158.7,268.6 159.1,268.9 159.5,269.1 160.0,269.5 160.4,269.7 160.8,269.8 161.2,269.9 161.7,269.8 162.1,270.2 162.5,270.3 162.9,270.5 163.4,270.7 163.8,270.3 164.2,270.7 164.6,270.5 165.1,271.0 165.5,271.1 165.9,270.8 166.3,270.7 166.8,270.7 167.2,271.2 167.6,271.0 168.0,271.2 168.5,271.0 168.9,270.6 169.3,270.7 169.7,270.7 170.2,270.8 170.6,271.0 171.0,271.2 171.4,271.1 171.9,271.3 172.3,271.3 172.7,271.4 173.1,271.3 173.6,271.4 174.0,271.5 174.4,271.5 174.9,271.7 175.3,271.3 175.7,271.4 176.1,271.6 176.6,270.9 177.0,270.4 177.4,269.7 177.8,269.0 178.3,269.6 178.7,269.8 179.1,268.4 179.5,267.2 180.0,267.7 180.4,268.0 180.8,267.3 181.2,266.3 181.7,266.7 182.1,267.3 182.5,266.2 182.9,265.5 183.4,265.3 183.8,264.6 184.2,264.8 184.6,264.4 185.1,264.7 185.5,264.7 185.9,264.8 186.3,265.0 186.8,264.9 187.2,265.5 187.6,265.2 188.0,265.5 188.5,265.9 188.9,265.7 189.3,265.8 189.7,265.9 190.2,266.1 190.6,265.8 191.0,265.9 191.4,266.1 191.9,266.0 192.4,265.6 192.9,265.5 193.4,265.5 193.8,265.1 194.3,265.2 194.7,265.7 195.1,266.0 195.5,266.2 196.0,266.3 196.4,266.0 196.8,266.4 197.2,266.6 197.7,266.5 198.1,266.8 198.5,266.7 198.9,267.1 199.4,266.9 199.8,266.9 200.2,266.8 200.6,266.9 201.1,266.8 201.5,267.1 201.9,267.2 202.3,267.2 202.8,267.3 203.2,267.3 203.6,267.5 204.0,267.0 204.5,266.3 204.9,266.0 205.3,265.6 205.7,265.7 206.2,266.0 206.6,265.6 207.0,265.9 207.4,265.8 207.9,266.2 208.3,266.0 208.7,266.1 209.1,266.3 209.6,266.0 210.0,266.1 210.4,266.4 210.9,266.7 211.3,266.5 211.7,266.3 212.1,266.6 212.6,266.8 213.0,266.7 213.4,266.4 213.8,266.4 214.3,266.1 214.7,265.4 215.1,264.8 215.5,263.9 216.0,263.2 216.4,262.2 216.8,262.5 217.2,263.0 217.7,263.2 218.1,263.9 218.5,264.2 218.9,264.3 219.4,264.2 219.8,264.4 220.2,264.7 220.6,264.9 221.1,264.9 221.5,265.2 221.9,264.9 222.3,265.1 222.8,265.1 223.2,265.2 223.6,265.6 224.0,265.5 224.5,265.5 224.9,265.8 225.3,265.8 225.7,265.9 226.2,266.0 226.6,266.2 227.0,266.0 227.4,266.0 227.9,266.1 228.4,266.4 228.9,266.4 229.4,266.2 229.8,266.3 230.3,266.1 230.7,266.7 231.1,266.6 231.5,266.6 232.0,266.5 232.4,266.8 232.8,266.9 233.2,266.8 233.7,266.9 234.1,267.2 234.5,267.2 234.9,267.0 235.4,267.1 235.8,267.4 236.2,267.6 236.6,267.6 237.1,267.4 237.5,267.7 237.9,267.9 238.3,268.2 238.8,267.9 239.2,268.5 239.6,268.2 240.0,268.2 240.5,268.1 240.9,268.5 241.3,268.6 241.7,268.9 242.2,268.9 242.6,268.9 243.0,268.9 243.4,269.3 243.9,269.0 244.3,269.0 244.7,269.2 245.1,269.4 245.6,269.5 246.0,269.4 246.4,269.6 246.9,269.4 247.3,269.8 247.7,269.9 248.1,269.7 248.6,269.2 249.0,269.0 249.4,268.2 249.8,267.2 250.3,268.0 250.7,268.1 251.1,267.4 251.5,266.3 252.0,266.2 252.4,265.5 252.8,266.0 253.2,266.5 253.7,265.7 254.1,264.6 254.5,264.9 254.9,265.5 255.4,264.5 255.8,263.9 256.2,263.4 256.6,263.0 257.1,263.3 257.5,263.8 257.9,263.1 258.3,262.5 258.8,262.7 259.2,263.0 259.6,262.8 260.0,262.2 260.5,262.4 260.9,262.1 261.3,262.3 261.7,262.5 262.2,262.4 262.6,262.6 263.0,262.4 263.4,262.7 263.9,262.7 264.4,262.8 264.9,263.2 265.4,263.1 265.8,262.8 266.3,263.0 266.7,263.0 267.1,262.9 267.6,263.0 268.0,263.3 268.5,263.2 269.1,260.5 269.8,257.1 270.5,256.1 271.2,258.7 271.7,258.9 272.2,259.1 272.6,259.6 273.1,259.4 273.5,259.9 273.9,259.9 274.3,259.9 274.8,260.1 275.2,260.3 275.6,260.4 276.0,260.3 276.5,260.6 276.9,260.6 277.3,260.9 277.7,261.2 278.2,261.3 278.6,261.3 279.0,261.4 279.4,261.7 279.9,261.5 280.3,261.5 280.7,261.8 281.1,262.1 281.6,261.8 282.0,262.1 282.4,262.2 282.9,262.2 283.3,262.1 283.7,262.1 284.1,262.2 284.6,262.6 285.0,262.6 285.4,262.2 285.8,262.5 286.3,262.3 286.7,262.7 287.1,262.5 287.5,262.7 288.0,262.7 288.4,262.5 288.8,262.8 289.2,262.8 289.7,262.6 290.1,262.6 290.5,262.8 290.9,263.0 291.4,263.2 291.8,262.9 292.2,263.1 292.6,262.8 293.1,262.8 293.5,263.0 294.0,263.4 294.4,263.3 294.8,263.4 295.3,263.5 295.7,263.2 296.1,263.5 296.5,263.6 297.0,263.7 297.4,263.9 297.8,263.8 298.2,263.9 298.7,264.0 299.1,263.8 299.5,264.2 299.9,264.5 300.4,264.3 300.8,264.2 301.2,264.3 301.6,264.4 302.1,264.4 302.5,264.5 302.9,264.8 303.3,264.7 303.8,264.7 304.2,265.0 304.6,264.9 305.0,265.1 305.5,265.3 305.9,265.6 306.3,265.5 306.7,265.3 307.2,266.0 307.6,265.5 308.0,265.9 308.4,265.9 308.9,266.2 309.3,265.9 309.7,266.0 310.1,265.8 310.6,265.7 311.0,265.4 311.4,265.6 311.9,265.5 312.3,265.5 312.7,265.1 313.1,265.2 313.6,265.3 314.0,264.8 314.4,265.1 314.8,264.6 315.3,264.6 315.7,264.5 316.1,264.0 316.5,263.9 317.0,262.9 317.4,262.1 317.9,258.7" fill="none" stroke="#ea2a22" stroke-width="1.05" stroke-opacity="1" stroke-linejoin="round" stroke-linecap="round"/>
<polyline points="49.1,268.5 49.7,265.6 50.4,263.4 51.1,261.8 51.8,263.0 52.5,261.1 53.1,262.5 53.8,262.1 54.5,263.7 55.2,265.9 55.9,264.5 56.5,266.1 57.2,264.6 57.9,263.3 58.6,265.1 59.3,263.9 60.0,265.3 60.6,263.9 61.3,266.1 62.0,264.5 62.7,263.3 63.4,265.0 64.0,268.5 64.7,270.1 65.4,266.1 66.1,264.8 66.8,265.1 67.5,264.2 68.1,265.6 68.6,265.5 69.0,264.6 69.4,265.4 69.8,266.7 70.3,265.6 70.7,265.1 71.1,265.6 71.5,267.6 72.0,265.5 72.4,264.2 72.8,265.2 73.2,265.2 73.7,264.5 74.1,264.1 74.5,263.7 74.9,264.6 75.4,266.0 75.8,265.9 76.2,265.4 76.6,263.4 77.1,265.2 77.5,264.7 77.9,264.4 78.3,266.0 78.8,263.9 79.2,264.3 79.6,263.3 80.0,264.3 80.5,265.1 80.9,265.6 81.3,264.0 81.7,262.4 82.2,262.6 82.6,264.9 83.0,263.9 83.5,264.3 84.0,264.1 84.5,264.0 85.0,262.7 85.4,263.4 85.8,263.0 86.3,263.5 86.7,262.8 87.1,262.4 87.6,259.9 88.3,261.3 88.7,262.3 89.2,262.7 89.6,261.8 90.0,262.0 90.4,263.4 90.8,264.0 91.3,262.8 91.7,263.1 92.1,264.5 92.5,264.9 93.0,263.6 93.4,263.4 93.8,265.7 94.3,265.7 94.7,264.7 95.1,264.9 95.5,266.1 96.0,267.4 96.4,266.1 96.8,265.7 97.2,264.9 97.7,264.6 98.1,265.6 98.5,267.5 98.9,267.1 99.4,265.3 99.8,263.8 100.2,263.6 100.6,264.8 101.1,264.5 101.5,262.9 101.9,263.3 102.3,263.3 102.8,263.4 103.2,263.5 103.6,262.1 104.0,264.1 104.5,265.0 104.9,266.2 105.3,266.8 105.7,267.0 106.2,268.4 106.6,266.8 107.0,265.7 107.4,265.4 107.9,266.5 108.3,264.7 108.7,265.0 109.1,263.2 109.6,263.0 110.0,262.8 110.4,261.6 110.9,262.8 111.3,262.9 111.7,263.0 112.1,265.2 112.6,263.9 113.0,264.2 113.4,264.5 113.8,265.5 114.3,265.2 114.7,264.7 115.1,265.7 115.5,265.6 116.0,264.0 116.4,263.9 116.8,263.4 117.2,265.0 117.7,263.2 118.1,262.8 118.5,263.6 118.9,263.7 119.4,264.2 119.8,263.3 120.5,263.7 121.0,264.1 121.4,264.9 121.8,263.9 122.3,263.1 122.7,263.9 123.1,265.6 123.5,264.9 124.0,264.2 124.4,262.7 124.8,262.4 125.2,262.4 125.7,263.6 126.1,262.0 126.5,261.7 126.9,261.3 127.4,262.8 127.8,262.5 128.2,262.3 128.6,263.3 129.1,263.5 129.5,262.8 129.9,262.4 130.3,261.0 130.8,260.9 131.2,262.8 131.6,262.5 132.0,261.3 132.5,261.0 132.9,262.4 133.3,262.0 133.7,261.1 134.2,260.5 134.6,262.1 135.0,261.7 135.4,261.1 135.9,261.2 136.3,262.0 136.7,261.8 137.1,261.6 137.6,261.3 138.0,260.0 138.4,260.3 138.9,260.2 139.3,262.2 139.7,260.3 140.1,260.4 140.6,261.7 141.0,261.9 141.4,261.4 141.8,260.3 142.3,262.1 142.7,261.9 143.1,261.2 143.5,261.0 144.0,262.1 144.4,263.3 144.8,263.8 145.2,264.0 145.7,264.7 146.1,266.0 146.5,266.2 146.9,267.3 147.4,267.3 147.8,265.8 148.2,266.8 148.6,268.4 149.1,267.8 149.5,266.2 149.9,267.0 150.3,268.3 150.8,265.3 151.2,262.8 151.6,262.2 152.0,260.9 152.5,264.2 152.9,268.6 153.3,268.4 153.7,270.1 154.2,266.7 154.6,265.3 155.0,266.4 155.4,267.0 156.0,266.4 156.6,264.3 157.0,262.6 157.4,261.8 157.8,263.8 158.3,264.1 158.7,263.4 159.1,262.5 159.5,262.4 160.0,264.0 160.4,263.4 160.8,262.1 161.2,262.2 161.7,262.8 162.1,261.9 162.5,261.2 162.9,261.9 163.4,262.0 163.8,261.4 164.2,261.0 164.6,262.5 165.1,263.4 165.5,262.8 165.9,264.1 166.3,263.3 166.8,261.9 167.2,261.8 167.6,263.3 168.0,260.6 168.5,259.2 168.9,258.3 169.3,259.0 169.7,259.3 170.2,259.9 170.6,258.7 171.0,257.9 171.4,258.7 171.9,259.2 172.3,260.7 172.7,260.6 173.1,259.1 173.6,258.5 174.0,257.4 174.4,256.5 174.9,257.7 175.3,257.6 175.7,259.0 176.1,259.9 176.6,258.8 177.0,258.5 177.4,259.3 177.8,260.4 178.3,259.1 178.7,259.5 179.1,260.1 179.5,260.9 180.0,261.5 180.4,260.6 180.8,259.6 181.2,258.3 181.7,258.7 182.1,257.7 182.5,258.2 182.9,257.2 183.4,257.8 183.8,259.8 184.2,260.6 184.6,261.1 185.1,261.4 185.5,260.3 185.9,259.9 186.3,260.3 186.8,260.7 187.2,259.9 187.6,259.7 188.0,260.3 188.5,261.0 188.9,259.9 189.3,261.1 189.7,261.2 190.2,261.2 190.6,260.2 191.0,261.1 191.4,260.2 192.0,261.1 192.6,261.2 193.0,260.7 193.4,261.2 193.8,261.6 194.3,260.2 194.7,260.1 195.1,260.8 195.5,261.8 196.0,261.9 196.4,262.6 196.8,260.8 197.2,260.7 197.7,260.6 198.1,260.2 198.5,259.9 198.9,260.7 199.4,261.7 199.8,263.1 200.2,263.3 200.6,262.3 201.1,261.2 201.5,260.5 201.9,259.3 202.3,259.5 202.8,260.4 203.2,260.7 203.6,261.2 204.0,260.9 204.5,262.6 204.9,261.4 205.3,261.3 205.7,260.1 206.2,259.6 206.6,259.7 207.0,259.2 207.4,260.2 207.9,261.7 208.3,261.4 208.7,262.1 209.1,259.3 209.6,257.5 210.0,257.6 210.4,259.3 210.9,261.4 211.3,261.9 211.7,260.4 212.1,260.3 212.6,259.5 213.0,258.7 213.4,259.0 213.8,260.3 214.3,259.6 214.7,259.2 215.1,258.7 215.5,257.6 216.0,256.8 216.4,257.4 216.8,259.1 217.2,259.4 217.7,260.5 218.1,260.9 218.5,261.2 218.9,263.0 219.4,264.3 219.8,263.4 220.2,262.9 220.6,262.4 221.1,261.6 221.5,263.1 221.9,262.9 222.3,264.1 222.8,263.2 223.2,261.7 223.6,262.7 224.0,262.6 224.5,264.1 224.9,264.7 225.3,263.0 225.7,261.8 226.2,260.8 226.6,259.5 227.0,258.5 227.4,258.3 228.0,257.8 228.6,259.1 229.0,259.3 229.4,261.5 229.8,262.0 230.3,262.9 230.7,262.5 231.1,261.8 231.5,262.4 232.0,263.7 232.4,263.6 232.8,265.0 233.2,264.2 233.7,263.1 234.1,264.6 234.5,265.2 234.9,265.0 235.4,266.0 235.8,264.6 236.2,261.3 236.6,261.8 237.1,260.3 237.5,261.1 237.9,262.3 238.3,262.4 238.8,261.2 239.2,262.1 239.6,262.8 240.0,263.3 240.5,265.1 240.9,265.1 241.3,263.8 241.7,264.0 242.2,265.9 242.6,265.0 243.0,264.9 243.4,264.9 243.9,265.1 244.3,265.2 244.7,263.4 245.1,263.9 245.6,261.8 246.0,259.7 246.4,257.4 246.9,257.7 247.3,258.9 247.7,257.5 248.1,257.5 248.6,257.4 249.0,258.2 249.4,258.6 249.8,258.1 250.3,259.2 250.7,259.2 251.1,258.9 251.5,259.1 252.0,261.8 252.4,262.8 252.8,264.8 253.2,265.7 253.7,263.2 254.1,262.4 254.5,260.4 254.9,260.6 255.4,262.1 255.8,262.3 256.2,261.2 256.6,259.7 257.1,258.5 257.5,257.5 257.9,257.2 258.3,256.8 258.8,258.5 259.2,259.1 259.6,260.5 260.0,260.3 260.5,261.6 260.9,261.7 261.3,259.5 261.7,259.6 262.2,259.2 262.6,260.0 263.0,259.9 263.4,259.8 264.0,258.9 264.6,259.4 265.0,260.0 265.4,260.5 265.8,258.8 266.3,258.4 266.7,257.3 267.1,257.7 267.5,259.3 268.0,258.4 268.4,258.4 268.8,257.2 269.2,258.2 269.7,258.2 270.1,257.4 270.5,258.5 270.9,260.2 271.4,260.6 271.8,260.7 272.2,259.1 272.6,261.1 273.1,261.2 273.5,261.4 273.9,260.5 274.3,261.0 274.8,262.2 275.2,260.8 275.6,261.7 276.0,262.5 276.5,262.3 276.9,262.0 277.3,261.5 277.7,262.0 278.2,262.7 278.6,262.9 279.0,262.6 279.4,263.7 279.9,264.1 280.3,262.7 280.7,262.8 281.1,261.7 281.6,261.3 282.0,262.5 282.4,262.3 282.9,261.0 283.3,259.5 283.7,259.8 284.1,261.0 284.6,263.1 285.0,263.4 285.4,262.4 285.8,261.5 286.3,262.0 286.7,263.4 287.1,262.5 287.5,262.5 288.0,264.1 288.4,266.9 288.8,267.0 289.2,267.0 289.7,263.4 290.1,260.8 290.5,259.5 290.9,259.2 291.4,258.4 291.8,257.5 292.2,256.9 292.6,257.1 293.1,257.6 293.6,259.2 294.0,261.0 294.4,261.1 294.8,260.7 295.3,259.4 295.7,259.1 296.1,257.4 296.5,257.8 297.0,259.1 297.4,259.6 297.8,261.4 298.2,261.6 298.7,262.6 299.1,261.6 299.5,260.4 299.9,260.4 300.4,262.2 300.8,263.3 301.2,264.5 301.6,266.9 302.1,268.5 302.5,264.9 302.9,261.9 303.3,261.4 303.8,259.8 304.2,260.4 304.6,261.4 305.0,261.4 305.5,262.4 305.9,261.9 306.3,261.6 306.7,261.7 307.2,262.5 307.6,263.3 308.0,262.2 308.4,263.6 308.9,264.1 309.3,265.2 309.7,265.4 310.1,265.0 310.6,263.1 311.0,261.9 311.4,260.9 311.9,260.9 312.3,261.9 312.7,260.9 313.1,260.3 313.6,261.1 314.0,261.7 314.4,262.3 314.8,263.1 315.3,263.7 315.7,266.6 316.1,266.9 316.5,267.5 317.0,264.4 317.4,262.3 317.9,259.6" fill="none" stroke="#1fa352" stroke-width="1.1" stroke-opacity="1" stroke-linejoin="round" stroke-linecap="round"/>
<path d="M48.5,301.8H317.3" fill="none" stroke="#505050" stroke-width="1"/>
<path d="M93.30,301.8v-3.2" stroke="#444" stroke-width="0.9"/>
<path d="M138.10,301.8v-3.2" stroke="#444" stroke-width="0.9"/>
<path d="M182.90,301.8v-3.2" stroke="#444" stroke-width="0.9"/>
<path d="M227.70,301.8v-3.2" stroke="#444" stroke-width="0.9"/>
<path d="M272.50,301.8v-3.2" stroke="#444" stroke-width="0.9"/>
<path d="M317.30,301.8v-3.2" stroke="#444" stroke-width="0.9"/>
<path d="M51.8,242.2H48.5V302.3" fill="none" stroke="#555" stroke-width="1.05"/>
<text transform="translate(46.40 305.30) scale(1 1.04)" text-anchor="end" class="d">-2000</text>
<path d="M48.5,286.68h3.3" stroke="#4a4a4a" stroke-width="1"/>
<text transform="translate(46.40 290.48) scale(1 1.04)" text-anchor="end" class="d">0</text>
<path d="M48.5,271.85h3.3" stroke="#4a4a4a" stroke-width="1"/>
<text transform="translate(46.40 275.65) scale(1 1.04)" text-anchor="end" class="d">2000</text>
<path d="M48.5,257.02h3.3" stroke="#4a4a4a" stroke-width="1"/>
<text transform="translate(46.40 260.82) scale(1 1.04)" text-anchor="end" class="d">4000</text>
<text transform="translate(46.40 246.00) scale(1 1.04)" text-anchor="end" class="d">6000</text>
<text transform="translate(48.75 313.50) scale(1 1.04)" text-anchor="middle" class="x">0</text>
<text transform="translate(94.15 313.50) scale(1 1.04)" text-anchor="middle" class="x">240</text>
<text transform="translate(138.95 313.50) scale(1 1.04)" text-anchor="middle" class="x">480</text>
<text transform="translate(183.75 313.50) scale(1 1.04)" text-anchor="middle" class="x">720</text>
<text transform="translate(228.55 313.50) scale(1 1.04)" text-anchor="middle" class="x">960</text>
<text transform="translate(274.35 313.50) scale(1 1.04)" text-anchor="middle" class="x">1200</text>
<text transform="translate(319.15 313.50) scale(1 1.04)" text-anchor="middle" class="x">1440</text>
<text transform="translate(183.50 330.20) scale(1 1.04)" text-anchor="middle">Time (min)</text>
<text transform="translate(185.20 349.10) scale(1 1.04)" text-anchor="middle" class="b">(c)</text>
<text class="r" transform="translate(12.4,271.40) rotate(-90)" text-anchor="middle">Power (kW)</text>
<text transform="translate(106.30 15.90) scale(1 1.04)" class="w">Wind power</text>
<path d="M129.5,20.3L117.1,28.1" stroke="#2a2a2a" stroke-width="0.95"/>
<text transform="translate(183.00 20.60) scale(1 1.04)">Nominal power</text>
<path d="M190.5,25.1L181.7,39.2" stroke="#2a2a2a" stroke-width="0.95"/>
<text transform="translate(74.40 171.20) scale(1 1.04)">Uncontrolled</text>
<path d="M101.7,159.2L95.4,151.0" stroke="#2a2a2a" stroke-width="0.95"/>
<text transform="translate(257.80 173.40) scale(1 1.04)">Controlled</text>
<path d="M254.6,168.9L248.7,161.0" stroke="#2a2a2a" stroke-width="0.95"/>
<text transform="translate(77.20 284.10) scale(1 1.04)">Uncontrolled</text>
<path d="M74.6,279.0L64.7,267.7" stroke="#2a2a2a" stroke-width="0.95"/>
<text transform="translate(191.70 288.10) scale(1 1.04)">Controlled</text>
<path d="M185.7,282.7L176.4,270.8" stroke="#2a2a2a" stroke-width="0.95"/>
</svg></body></html>
